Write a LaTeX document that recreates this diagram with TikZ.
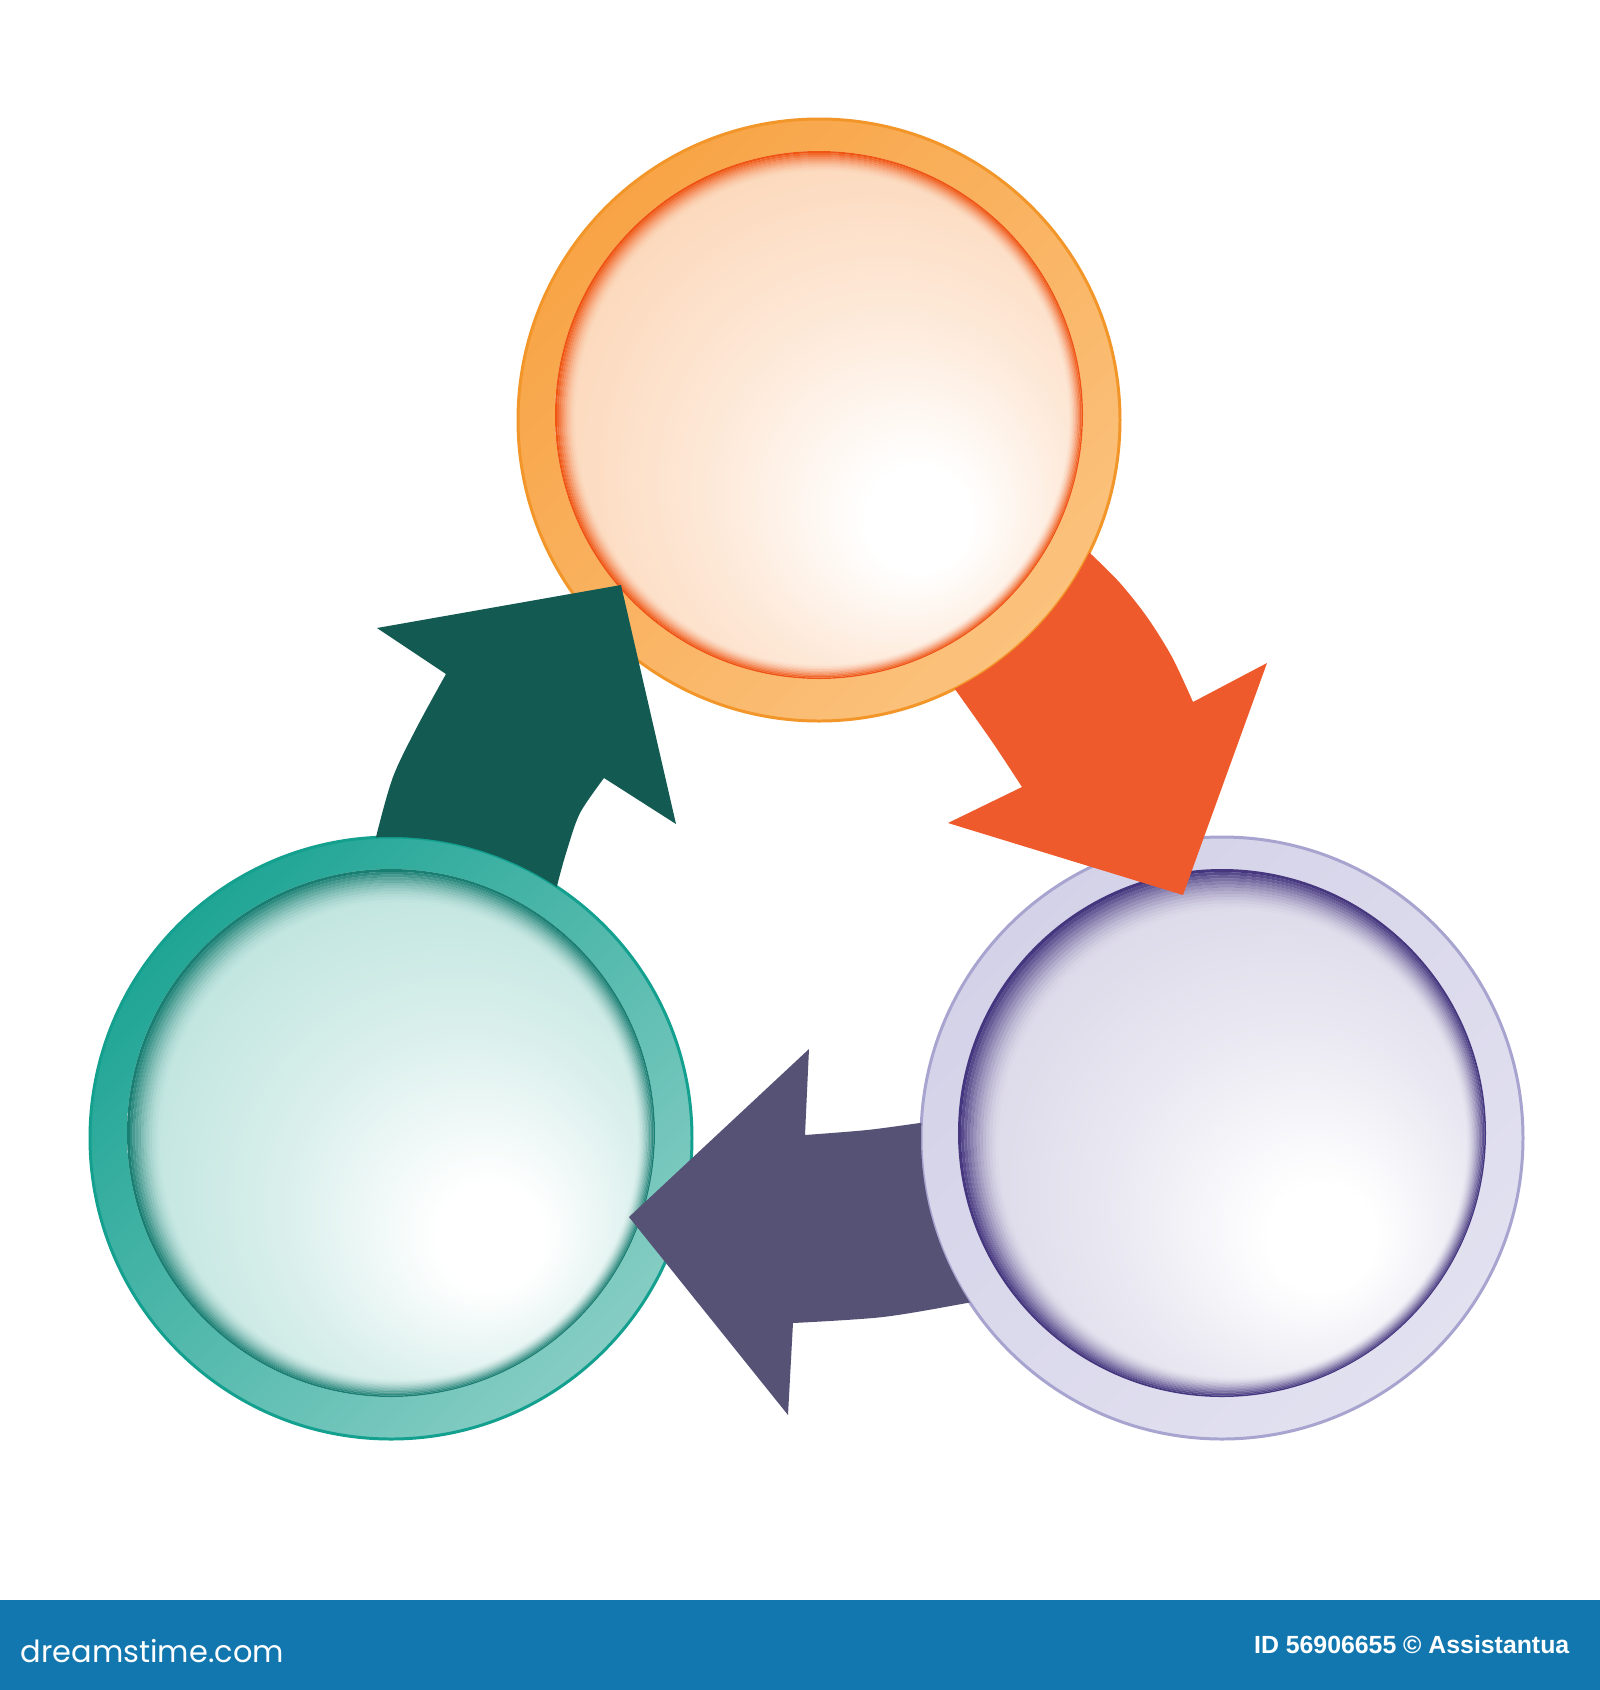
\documentclass[tikz,border=0pt]{standalone}
\usepackage{fontspec}
\setmainfont{Liberation Sans}
\newfontfamily\logofont{Poppins}
\usetikzlibrary{calc}
\definecolor{oRingA}{HTML}{F8A446}
\definecolor{oRingB}{HTML}{FBC27D}
\definecolor{oEdge}{HTML}{F3962A}
\definecolor{oD}{HTML}{EF4E0A}
\definecolor{oL}{HTML}{FCD7B9}
\definecolor{tRingA}{HTML}{1FA595}
\definecolor{tRingB}{HTML}{86CDC4}
\definecolor{tEdge}{HTML}{13A08F}
\definecolor{tD}{HTML}{127A6E}
\definecolor{tL}{HTML}{BCE3DD}
\definecolor{pRingA}{HTML}{D4D2E8}
\definecolor{pRingB}{HTML}{E2E1F0}
\definecolor{pEdge}{HTML}{A7A4CF}
\definecolor{pD}{HTML}{3E2F7A}
\definecolor{pL}{HTML}{D9D6E7}
\definecolor{gArrow}{HTML}{125A52}
\definecolor{orArrow}{HTML}{EE5A2B}
\definecolor{puArrow}{HTML}{565275}
\definecolor{banner}{HTML}{1377AF}
\colorlet{oM}{oL!55!white}
\colorlet{tM}{tL!55!white}
\colorlet{pM}{pL!55!white}
\pgfdeclareradialshading{inO}{\pgfpoint{10.5bp}{-11bp}}{color(0bp)=(white); color(5bp)=(white); color(17bp)=(oM); color(31bp)=(oL); color(50bp)=(oL)}
\pgfdeclareradialshading{inT}{\pgfpoint{10.5bp}{-11bp}}{color(0bp)=(white); color(5bp)=(white); color(17bp)=(tM); color(31bp)=(tL); color(50bp)=(tL)}
\pgfdeclareradialshading{inP}{\pgfpoint{10.5bp}{-11bp}}{color(0bp)=(white); color(5bp)=(white); color(17bp)=(pM); color(31bp)=(pL); color(50bp)=(pL)}
% #1 centre, #2 colour, #3 steps-1, #4 radius step, #5 shift step
\newcommand{\diskrim}[5]{%
  \foreach \k in {0,...,#3}{%
    \pgfmathsetmacro{\rimRa}{264-\k*#4}%
    \pgfmathsetmacro{\rimRb}{264-(\k+1)*#4}%
    \pgfmathsetmacro{\rimSa}{\k*#5}%
    \pgfmathsetmacro{\rimSb}{(\k+1)*#5}%
    \pgfmathsetmacro{\rimOp}{0.95*(1-\k/(#3+1))^1.7}%
    \fill[#2, opacity=\rimOp, even odd rule] ($(#1)+(\rimSa,\rimSa)$) circle[radius=\rimRa] ($(#1)+(\rimSb,\rimSb)$) circle[radius=\rimRb];
  }}
\tikzset{
  ringO/.style={top color=oRingA, bottom color=oRingB, shading angle=45, draw=oEdge, line width=0.85pt},
  ringT/.style={top color=tRingA, bottom color=tRingB, shading angle=45, draw=tEdge, line width=0.85pt},
  ringP/.style={top color=pRingA, bottom color=pRingB, shading angle=45, draw=pEdge, line width=0.85pt},
  arrG/.style={fill=gArrow},
  arrO/.style={fill=orArrow},
  arrP/.style={fill=puArrow},
}
\begin{document}
\begin{tikzpicture}[x=0.01cm,y=-0.01cm]
\useasboundingbox (0,0) rectangle (1600,1690);
\fill[white] (0,0) rectangle (1600,1690);
% circle centres
\coordinate (O) at (819,420);
\coordinate (Od) at (819,415);
\coordinate (T) at (391,1138);
\coordinate (Td) at (391,1133);
\coordinate (P) at (1222,1138);
\coordinate (Pd) at (1222,1133);
% orange circle
\path[ringO] (O) circle[radius=301];
\shade[shading=inO] (Od) circle[radius=264];
\diskrim{Od}{oD}{9}{1.7}{0.3}
% teal circle
\path[ringT] (T) circle[radius=301];
\shade[shading=inT] (Td) circle[radius=264];
\diskrim{Td}{tD}{11}{2.1}{0.65}
% purple circle
\path[ringP] (P) circle[radius=301];
\shade[shading=inP] (Pd) circle[radius=264];
\diskrim{Pd}{pD}{12}{2.3}{0.8}
% green arrow (teal -> orange)
\begin{scope}[even odd rule]
  \clip (0,0) rectangle (1600,1690) (T) circle[radius=301];
  \fill[arrG] plot[smooth] coordinates {(372,860) (376,837) (393,777) (417,727) (446,674)}
    -- (377,628) -- (621,585) -- (676,824)
    -- plot[smooth] coordinates {(604,778) (580,813) (567,850) (558,882) (553,905)} -- cycle;
\end{scope}
% orange arrow (orange -> purple)
\begin{scope}[even odd rule]
  \clip (0,0) rectangle (1600,1690) (O) circle[radius=301];
  \fill[arrO] plot[smooth] coordinates {(940,669) (957,692) (993,743) (1022,787)}
    -- (948,823) -- (1183,895) -- (1267,663)
    -- plot[smooth] coordinates {(1193,702) (1172,657) (1147,617) (1120,583) (1092,555) (1068,533)} -- cycle;
\end{scope}
% purple arrow (purple -> teal)
\begin{scope}[even odd rule]
  \clip (0,0) rectangle (1600,1690) (P) circle[radius=301];
  \fill[arrP] plot[smooth] coordinates {(945,1120) (920,1123) (867,1130) (805,1135)}
    -- (809,1049) -- (629,1217) -- (788,1415)
    -- plot[smooth] coordinates {(793,1323) (883,1317) (967,1303) (990,1298)} -- cycle;
\end{scope}
% banner
\fill[banner] (0,1600) rectangle (1600,1690);
\node[anchor=base west, inner sep=0pt, text=white] (logo) at (20,1662)
  {\resizebox{2.63cm}{!}{\logofont dreamstime.com}};
\node[anchor=base east, inner sep=0pt, text=white] (credit) at (1570,1653)
  {\resizebox{3.15cm}{!}{\bfseries ID 56906655 © Assistantua}};
\end{tikzpicture}
\end{document}
